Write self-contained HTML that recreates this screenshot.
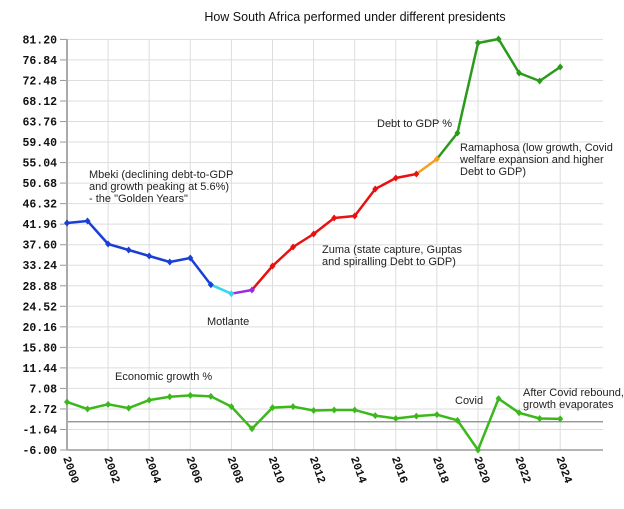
<!DOCTYPE html>
<html><head><meta charset="utf-8"><style>body{margin:0;background:#fff}svg{display:block}</style></head>
<body>
<svg id="s" width="624" height="509" xmlns="http://www.w3.org/2000/svg" font-family="Liberation Sans, sans-serif"></svg>
<script>
const s=document.getElementById('s');
let h='';
const X=y=>67+(y-2000)*20.55;
const Y=v=>450-(v+6)/4.36*20.53;
h+='<text x="355" y="21" font-size="12.5" text-anchor="middle" fill="#111">How South Africa performed under different presidents</text>';
for(let i=0;i<=20;i++){const y=450-i*20.53;h+=`<line x1="67" x2="603" y1="${y}" y2="${y}" stroke="#ddd"/>`;
const v=(-6+i*4.36).toFixed(2);h+=`<line x1="60" x2="67" y1="${y}" y2="${y}" stroke="#999"/><text x="57" y="${y+4}" font-family="Liberation Mono, monospace" font-weight="bold" font-size="11.5" text-anchor="end" fill="#111">${v}</text>`;}
for(let yr=2000;yr<=2024;yr+=2){const x=X(yr);h+=`<line x1="${x}" x2="${x}" y1="39" y2="450" stroke="#ddd"/><text transform="translate(${x-4},458) rotate(70)" font-family="Liberation Mono, monospace" font-weight="bold" font-size="11.5" fill="#111">${yr}</text>`;}
h+=`<line x1="67" x2="603" y1="${Y(0)}" y2="${Y(0)}" stroke="#888" stroke-width="1.2"/>`;
h+=`<line x1="67" x2="603" y1="450" y2="450" stroke="#888" stroke-width="1.2"/>`;
h+=`<line x1="67" x2="67" y1="39" y2="450" stroke="#aaa" stroke-width="2"/>`;
const d=[223,221,244,250,256,262,258,284.7,293.7,290,266,247,234,218,216,189,178,174,159,133,43,39,73,81,67];
const cols=['#1a3fd6','#1a3fd6','#1a3fd6','#1a3fd6','#1a3fd6','#1a3fd6','#1a3fd6','#33d6f0','#9a2be0','#e81010','#e81010','#e81010','#e81010','#e81010','#e81010','#e81010','#e81010','#f5a020','#2a9a1a','#2a9a1a','#2a9a1a','#2a9a1a','#2a9a1a','#2a9a1a'];
for(let i=0;i<24;i++)h+=`<line x1="${X(2000+i)}" y1="${d[i]}" x2="${X(2001+i)}" y2="${d[i+1]}" stroke="${cols[i]}" stroke-width="2.5"/>`;
const mk=(x,y,c)=>`<path d="M${x} ${y-3.5}L${x+3} ${y}L${x} ${y+3.5}L${x-3} ${y}Z" fill="${c}"/>`;
for(let i=0;i<25;i++){h+=mk(X(2000+i),d[i],i==0?cols[0]:cols[i-1]);}
const g=[4.2,2.7,3.7,2.9,4.6,5.3,5.6,5.4,3.2,-1.5,3.0,3.2,2.4,2.5,2.5,1.3,0.7,1.2,1.5,0.3,-6,4.9,1.9,0.7,0.6];
h+=`<polyline fill="none" stroke="#3cb81c" stroke-width="2.5" points="${g.map((v,i)=>X(2000+i)+','+Y(v)).join(' ')}"/>`;
g.forEach((v,i)=>h+=mk(X(2000+i),Y(v),'#3cb81c'));
const t=(x,y,lines)=>lines.map((l,i)=>`<text x="${x}" y="${y+i*12}" font-size="11" fill="#222">${l}</text>`).join('');
h+=t(89,178,['Mbeki (declining debt-to-GDP','and growth peaking at 5.6%)','- the "Golden Years"']);
h+=t(207,325,['Motlante']);
h+=t(322,253,['Zuma (state capture, Guptas','and spiralling Debt to GDP)']);
h+=t(377,127,['Debt to GDP %']);
h+=t(460,151,['Ramaphosa (low growth, Covid','welfare expansion and higher','Debt to GDP)']);
h+=t(115,380,['Economic growth %']);
h+=t(455,404,['Covid']);
h+=t(523,396,['After Covid rebound,','growth evaporates']);
s.innerHTML=h;
</script>
</body></html>
